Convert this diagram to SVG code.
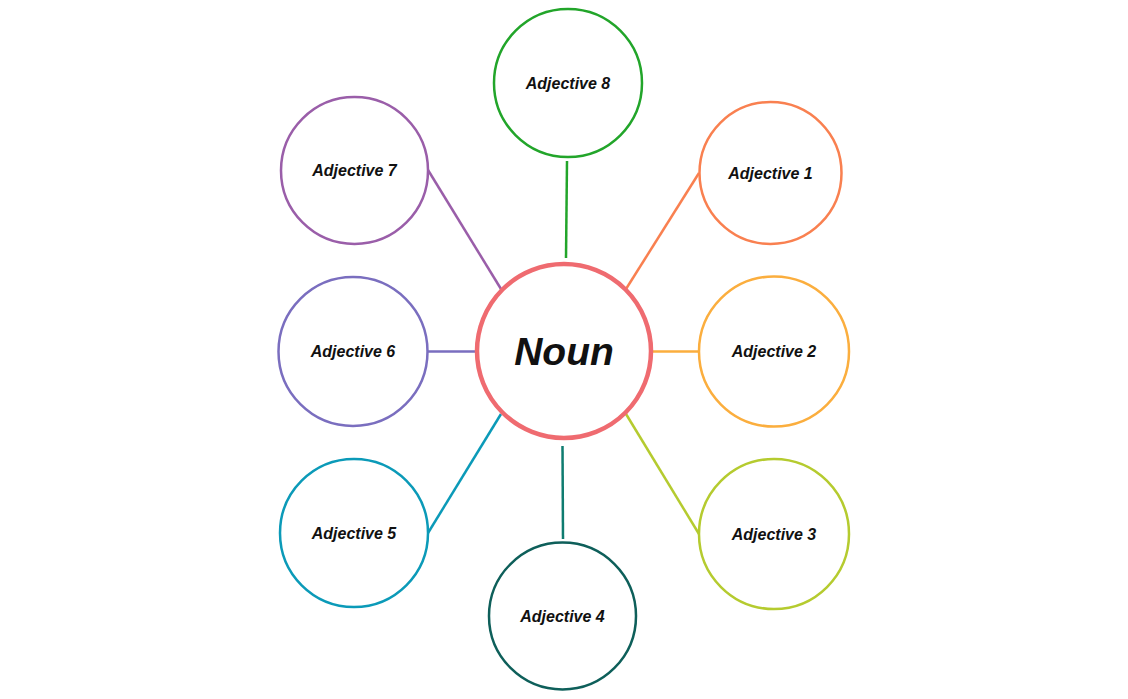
<svg xmlns="http://www.w3.org/2000/svg" width="1128" height="699" viewBox="0 0 1128 699">
<style>
.n{fill:#fff;stroke-width:2.5}
.c{stroke-width:2.5;fill:none}
.t{font-family:"Liberation Sans",Arial,sans-serif;font-weight:bold;font-style:italic;font-size:16px;fill:#111;text-anchor:middle}
.big{font-size:39px}
</style>
<rect width="1128" height="699" fill="#fff"/>
<g id="connectors">
<line class="c" x1="567" y1="161" x2="566" y2="258" stroke="#22a52a"/>
<line class="c" x1="428" y1="170" x2="501" y2="289" stroke="#9a5ea9"/>
<line class="c" x1="699" y1="173" x2="626" y2="289" stroke="#f98050"/>
<line class="c" x1="428" y1="351.5" x2="475" y2="351.5" stroke="#7a6ebf"/>
<line class="c" x1="653" y1="351.5" x2="699" y2="351.5" stroke="#fbae3e"/>
<line class="c" x1="428" y1="533" x2="501" y2="414" stroke="#0b9ab8"/>
<line class="c" x1="626" y1="414" x2="699" y2="534" stroke="#b5cb2f"/>
<line class="c" x1="562.5" y1="446" x2="563" y2="539" stroke="#0f7c70"/>
</g>
<g id="noun">
<circle cx="564" cy="351" r="87" fill="#fff" stroke="#ef6b70" stroke-width="4.5"/>
<text class="t big" x="564" y="365">Noun</text>
</g>
<g id="adj1">
<circle class="n" cx="770.5" cy="173" r="71" stroke="#f98050"/>
<text class="t" x="770.5" y="178.5">Adjective 1</text>
</g>
<g id="adj2">
<circle class="n" cx="774" cy="351.5" r="75" stroke="#fbae3e"/>
<text class="t" x="774" y="357">Adjective 2</text>
</g>
<g id="adj3">
<circle class="n" cx="774" cy="534" r="75" stroke="#b5cb2f"/>
<text class="t" x="774" y="539.5">Adjective 3</text>
</g>
<g id="adj4">
<circle class="n" cx="562.5" cy="616" r="73.5" stroke="#0e5f5a"/>
<text class="t" x="562.5" y="621.5">Adjective 4</text>
</g>
<g id="adj5">
<circle class="n" cx="354" cy="533" r="74" stroke="#0b9ab8"/>
<text class="t" x="354" y="538.5">Adjective 5</text>
</g>
<g id="adj6">
<circle class="n" cx="353" cy="351.5" r="74.5" stroke="#7a6ebf"/>
<text class="t" x="353" y="357">Adjective 6</text>
</g>
<g id="adj7">
<circle class="n" cx="354.5" cy="170.5" r="73.5" stroke="#9a5ea9"/>
<text class="t" x="354.5" y="176">Adjective 7</text>
</g>
<g id="adj8">
<circle class="n" cx="568" cy="83" r="74" stroke="#22a52a"/>
<text class="t" x="568" y="88.5">Adjective 8</text>
</g>
</svg>
